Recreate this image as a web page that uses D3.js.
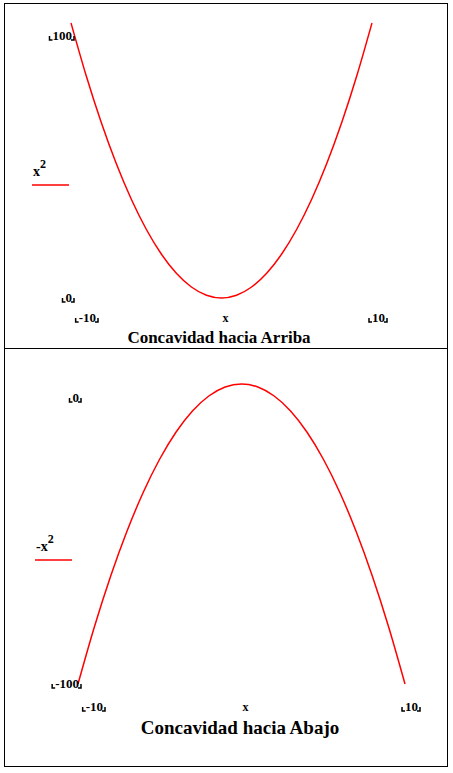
<!DOCTYPE html>
<html><head><meta charset="utf-8">
<script src="https://cdn.jsdelivr.net/npm/d3@7"></script>
<style>body{margin:0;background:#fff}text{font-family:"Liberation Serif","DejaVu Serif",serif;font-weight:bold;fill:#000}</style>
</head><body><svg id="c" width="453" height="773"></svg>
<script>
const xs = [-10, -9, -8, -7, -6, -5, -4, -3, -2, -1, 0, 1, 2, 3, 4, 5, 6, 7, 8, 9, 10];
const upValues = [100, 81, 64, 49, 36, 25, 16, 9, 4, 1, 0, 1, 4, 9, 16, 25, 36, 49, 64, 81, 100];
const downValues = [-100, -81, -64, -49, -36, -25, -16, -9, -4, -1, 0, -1, -4, -9, -16, -25, -36, -49, -64, -81, -100];
const upTicks = { yMax: '100', yMin: '0', xMin: '-10', xMax: '10' };
const downTicks = { yMax: '0', yMin: '-100', xMin: '-10', xMax: '10' };

const svg = d3.select('#c');

// corner-bracketed label like the Mathcad plot limits
function bracketLabel(g, x, y, txt, size) {
  const t = g.append('text').attr('x', x).attr('y', y).attr('text-anchor', 'end')
    .style('font-size', size + 'px').text(txt);
  const b = t.node().getBBox();
  const x0 = b.x - 3, x1 = b.x + b.width + 2, yb = y;
  g.append('path').attr('d', `M${x0},${yb - 4}V${yb}H${x0 + 3} M${x1},${yb - 4}V${yb}H${x1 - 3}`)
    .attr('stroke', '#000').attr('fill', 'none').attr('stroke-width', 1.5);
}

function panel(cfg) {
  const g = svg.append('g');
  g.append('rect').attr('x', 4.5).attr('y', cfg.top + 0.5).attr('width', 443).attr('height', cfg.h)
    .attr('fill', 'none').attr('stroke', '#000');
  const x = d3.scaleLinear().domain([-10, 10]).range(cfg.xr);
  const y = d3.scaleLinear().domain(cfg.yd).range(cfg.yr);
  const pts = xs.map((v, i) => [v, cfg.vals[i]]);
  g.append('path').datum(pts)
    .attr('d', d3.line().x(d => x(d[0])).y(d => y(d[1])).curve(d3.curveMonotoneX))
    .attr('fill', 'none').attr('stroke', '#f00').attr('stroke-width', 1.5);
  const tk = cfg.ticks;
  bracketLabel(g, cfg.xr[0] + 1, y(cfg.yd[1]) + cfg.yMaxDy, tk.yMax, 13);
  bracketLabel(g, cfg.xr[0] + 1, y(cfg.yd[0]) + cfg.yMinDy, tk.yMin, 13);
  const xb = cfg.xLabY;
  bracketLabel(g, x(-10) + 25, xb, tk.xMin, 13);
  bracketLabel(g, x(10) + 13, xb, tk.xMax, 13);
  g.append('text').attr('x', (x(-10) + x(10)) / 2 + 4).attr('y', xb).attr('text-anchor', 'middle')
    .style('font-size', '12px').text('x');
  g.append('text').attr('x', cfg.titleX).attr('y', cfg.titleY).attr('text-anchor', 'middle')
    .style('font-size', cfg.titleSize + 'px').text(cfg.title);
  const lg = g.append('text').attr('x', cfg.legX).attr('y', cfg.legY).style('font-size', '14px');
  lg.append('tspan').text(cfg.legend);
  lg.append('tspan').attr('dy', -8).style('font-size', '12px').text('2');
  g.append('line').attr('x1', cfg.legX - 1).attr('x2', cfg.legX + 36).attr('y1', cfg.legY + 9).attr('y2', cfg.legY + 9)
    .attr('stroke', '#f00').attr('stroke-width', 1.5);
}

panel({ top: 3, h: 345, vals: upValues, yd: [0, 100], xr: [71, 372], yr: [298, 23],
  ticks: upTicks, yMaxDy: 17, yMinDy: 4, xLabY: 322, title: 'Concavidad hacia Arriba',
  titleX: 219, titleY: 343, titleSize: 17, legend: 'x', legX: 33, legY: 176 });
panel({ top: 348, h: 418, vals: downValues, yd: [-100, 0], xr: [78, 405], yr: [684, 384],
  ticks: downTicks, yMaxDy: 18, yMinDy: 4, xLabY: 711, title: 'Concavidad hacia Abajo',
  titleX: 240, titleY: 734, titleSize: 19, legend: '-x', legX: 36, legY: 551 });
</script></body></html>
